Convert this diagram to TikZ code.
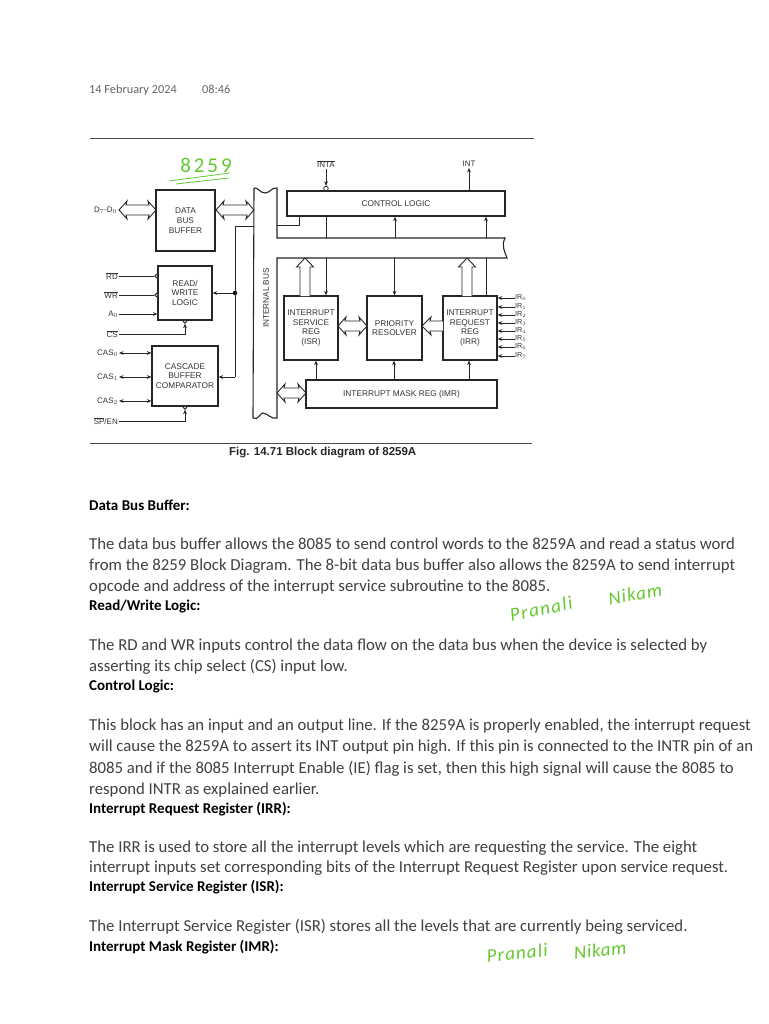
\documentclass[tikz,border=0pt]{standalone}
\usepackage{fontspec}
\setmainfont{Carlito}
\newfontfamily\figfont{Liberation Sans}
\usetikzlibrary{positioning,arrows.meta,calc}
\definecolor{ink}{RGB}{64,64,64}
\definecolor{pen}{RGB}{100,200,45}
\tikzset{
  blockbox/.style={draw=black!85,line width=1.3pt,inner sep=0pt,align=center,text=black!80,font=\figfont\fontsize{8.3}{9.7}\selectfont},
  siglabel/.style={inner sep=1pt,text=black!80,font=\figfont\fontsize{8}{9}\selectfont},
  sig/.style={draw=black!85,line width=.9pt,-{Stealth[length=4.5pt,width=3.8pt]}},
  wire/.style={draw=black!85,line width=.9pt},
  bubble/.style={circle,draw=black!85,fill=white,line width=.8pt,inner sep=0pt,minimum size=3.6pt},
  fatarrow/.style={draw=black!85,line width=.9pt,fill=white,line join=miter},
  bodyline/.style={anchor=base west,inner sep=0pt,text=ink,font=\fontsize{16.75}{19}\selectfont},
  headline/.style={anchor=base west,inner sep=0pt,text=black,font=\bfseries\fontsize{15}{16}\selectfont},
  scribble/.style={inner sep=0pt,text=pen,font=\itshape\fontsize{19}{20}\selectfont},
}
% outlined two-way arrow: left x, right x, level
\newcommand{\fatdouble}[3]{\draw[fatarrow] (#1,#3) -- (#1+8,#3-9) -- (#1+7,#3-5) -- (#2-7,#3-5) -- (#2-8,#3-9) -- (#2,#3) -- (#2-8,#3+9) -- (#2-7,#3+5) -- (#1+7,#3+5) -- (#1+8,#3+9) -- cycle;}
% outlined arrow going up: centre x, foot y, tip y
\newcommand{\fatup}[3]{\draw[fatarrow] (#1-5,#2) -- (#1-5,#3+9) -- (#1-8.5,#3+9) -- (#1,#3) -- (#1+8.5,#3+9) -- (#1+5,#3+9) -- (#1+5,#2);}
\begin{document}
\begin{tikzpicture}[x=1pt,y=-1pt]
  \useasboundingbox (0,0) rectangle (768,1024);
  % date line
  \node[anchor=base west,inner sep=0pt,text=black!60,font=\fontsize{12.3}{14}\selectfont] (stamp) at (89,93.5) {14 February 2024};
  \node[anchor=base west,inner sep=0pt,text=black!60,font=\fontsize{12.3}{14}\selectfont] (clock) at (202,93.5) {08:46};
  % rules of the figure
  \draw[black!70,line width=1pt] (90,139) -- (534,139);
  \draw[black!70,line width=1pt] (90,443) -- (532,443);
  \node[anchor=base west,inner sep=0pt,text=black!85,font=\figfont\bfseries\fontsize{11.5}{13}\selectfont] (caption) at (229,455) {Fig. 14.71 Block diagram of 8259A};
  % internal bus, vertical and horizontal parts in one outline
  \draw[black!85,line width=1.1pt,fill=white]
    (254,188) -- (253,418) .. controls (258,421) and (260,413) .. (263,413) .. controls (267,413) and (272,420) .. (277,418)
    -- (277,258) -- (507,258) .. controls (505,252) and (501,246) .. (505,238) -- (277,238) -- (277,188)
    .. controls (272,187) and (270,193) .. (265,193) .. controls (260,193) and (258,187) .. (254,188);
  \node[siglabel,rotate=90,font=\figfont\fontsize{8.2}{9}\selectfont] (busname) at (266,298) {INTERNAL BUS};
  % blocks
  \node[blockbox,minimum width=59pt,minimum height=61pt] (dbb) at (185.5,220.5) {DATA\\BUS\\BUFFER};
  \node[blockbox,minimum width=54pt,minimum height=54pt] (rwl) at (185,293) {READ/\\WRITE\\LOGIC};
  \node[blockbox,minimum width=66pt,minimum height=60pt] (cbc) at (185,376) {CASCADE\\BUFFER\\COMPARATOR};
  \node[blockbox,minimum width=218pt,minimum height=25pt] (ctl) at (396,203.5) {CONTROL LOGIC};
  \node[blockbox,minimum width=54pt,minimum height=64pt] (isr) at (311,328) {INTERRUPT\\SERVICE\\REG\\(ISR)};
  \node[blockbox,minimum width=55pt,minimum height=64pt] (prs) at (394.5,328) {PRIORITY\\RESOLVER};
  \node[blockbox,minimum width=54pt,minimum height=64pt] (irr) at (470,328) {INTERRUPT\\REQUEST\\REG\\(IRR)};
  \node[blockbox,minimum width=191pt,minimum height=28pt] (imr) at (401.5,394) {INTERRUPT MASK REG (IMR)};
  % outlined arrows
  \fatdouble{119}{156}{210}
  \fatdouble{216}{254}{210}
  \fatdouble{338}{367}{326}
  \fatdouble{277}{306}{393}
  \draw[fatarrow] (443,321) -- (430,321) -- (431,317) -- (422,326) -- (431,335) -- (430,331) -- (443,331);
  \fatup{305}{296}{258}
  \fatup{467}{296}{258}
  % data bus branch
  \coordinate (bustap) at (254,226);
  \coordinate (busknee) at (235,226);
  \node[circle,fill=black,inner sep=0pt,minimum size=4.5pt] (busdot) at (235,293) {};
  \coordinate (buscas) at (235,377);
  \draw[wire] (bustap) -- (busknee) -- (buscas);
  \draw[sig] (busdot) -- (rwl.east |- busdot);
  \draw[sig] (buscas) -- (cbc.east |- buscas);
  % inputs on the left
  \node[siglabel,anchor=east] (d70) at (118,210) {D$_7$-D$_0$};
  \node[siglabel,anchor=east] (rd) at (119,276) {$\overline{\mbox{RD}}$};
  \node[siglabel,anchor=east] (wr) at (119,295) {$\overline{\mbox{WR}}$};
  \node[siglabel,anchor=east] (azero) at (119,314) {A$_0$};
  \node[siglabel,anchor=east] (cs) at (119,334) {$\overline{\mbox{CS}}$};
  \node[siglabel,anchor=east] (caszero) at (119,353) {CAS$_0$};
  \node[siglabel,anchor=east] (casone) at (119,377) {CAS$_1$};
  \node[siglabel,anchor=east] (castwo) at (119,401) {CAS$_2$};
  \node[siglabel,anchor=east] (spen) at (119,421) {$\overline{\mbox{SP}}$/EN};
  \node[bubble] (rdb) at (156.5,276) {};
  \node[bubble] (wrb) at (156.5,295) {};
  \node[bubble] (csb) at (185,321.5) {};
  \node[bubble] (spb) at (185,407.5) {};
  \draw[wire] (rd) -- (rdb);
  \draw[wire] (wr) -- (wrb);
  \draw[sig] (azero) -- (rwl.west |- azero);
  \draw[sig] (cs.east) -- (csb |- cs) -- (csb);
  \foreach \nm in {caszero,casone,castwo} {\draw[sig,{Stealth[length=4.5pt,width=3.8pt]}-{Stealth[length=4.5pt,width=3.8pt]}] (\nm) -- (cbc.west |- \nm);}
  \draw[sig] (spen.east) -- (spb |- spen) -- (spb);
  % control logic pins
  \node[siglabel] (inta) at (326,164) {$\overline{\mbox{INTA}}$};
  \node[siglabel] (intpin) at (469,164) {INT};
  \node[bubble,minimum size=4.5pt] (intab) at (326,188.5) {};
  \draw[sig] (inta) -- (intab);
  \draw[sig] (ctl.north -| intpin) -- (intpin);
  \coordinate (ctlknee) at (299,225);
  \draw[wire] (277,225) -- (ctlknee) -- (ctl.south -| ctlknee);
  % links with the horizontal bus
  \coordinate (hbtop) at (396,238);
  \coordinate (hbbot) at (396,258);
  \draw[wire] (ctl.south -| 326,0) -- (hbtop -| 326,0);
  \draw[sig] (hbtop -| 395,0) -- (ctl.south -| 395,0);
  \draw[sig] (hbtop -| 486,0) -- (ctl.south -| 486,0);
  \draw[sig] (hbbot -| 326,0) -- (isr.north -| 326,0);
  \draw[sig] (hbbot -| prs) -- (prs.north);
  \draw[wire] (hbbot -| 486,0) -- (irr.north -| 486,0);
  % mask register up to the three blocks
  \foreach \xx/\nm in {316/isr,394/prs,469/irr} {\draw[sig] (imr.north -| \xx,0) -- (\nm.south -| \xx,0);}
  % interrupt request pins
  \foreach \i/\yy in {0/298,1/307,2/315,3/323,4/331,5/339,6/347,7/356} {
    \node[siglabel,anchor=west,inner sep=0pt,font=\figfont\fontsize{7.2}{8}\selectfont] (ir\i) at (515,\yy) {IR$_\i$};
    \draw[sig] (ir\i.west) -- (irr.east |- ir\i.west);
  }
  % handwriting
  \node[scribble,font=\fontsize{21}{22}\selectfont] (hwchip) at (206,165) {\addfontfeature{LetterSpace=14}8259};
  \draw[pen,line width=.8pt] (169,181) -- (230,173);
  \draw[pen,line width=.8pt] (176,184) -- (229,178);
  \node[scribble,rotate=12] (hwa) at (541,609) {\addfontfeature{LetterSpace=8}Pranali};
  \node[scribble,rotate=10] (hwb) at (635,594) {\addfontfeature{LetterSpace=6}Nikam};
  \node[scribble,rotate=6] (hwc) at (517,953) {\addfontfeature{LetterSpace=6}Pranali};
  \node[scribble,rotate=6] (hwd) at (600,950) {\addfontfeature{LetterSpace=4}Nikam};
  % text of the page
  \node[headline] (h1) at (89,510) {Data Bus Buffer:};
  \node[bodyline] (t1) at (89,549) {The data bus buffer allows the 8085 to send control words to the 8259A and read a status word};
  \node[bodyline] (t2) at (89,570) {from the 8259 Block Diagram. The 8-bit data bus buffer also allows the 8259A to send interrupt};
  \node[bodyline] (t3) at (89,591) {opcode and address of the interrupt service subroutine to the 8085.};
  \node[headline] (h2) at (89,610.5) {Read/Write Logic:};
  \node[bodyline] (t4) at (89,650) {The RD and WR inputs control the data flow on the data bus when the device is selected by};
  \node[bodyline] (t5) at (89,671) {asserting its chip select (CS) input low.};
  \node[headline] (h3) at (89,690.5) {Control Logic:};
  \node[bodyline] (t6) at (89,730) {This block has an input and an output line. If the 8259A is properly enabled, the interrupt request};
  \node[bodyline] (t7) at (89,751) {will cause the 8259A to assert its INT output pin high. If this pin is connected to the INTR pin of an};
  \node[bodyline] (t8) at (89,773) {8085 and if the 8085 Interrupt Enable (IE) flag is set, then this high signal will cause the 8085 to};
  \node[bodyline] (t9) at (89,794) {respond INTR as explained earlier.};
  \node[headline] (h4) at (89,813.5) {Interrupt Request Register (IRR):};
  \node[bodyline] (t10) at (89,852) {The IRR is used to store all the interrupt levels which are requesting the service. The eight};
  \node[bodyline] (t11) at (89,872) {interrupt inputs set corresponding bits of the Interrupt Request Register upon service request.};
  \node[headline] (h5) at (89,891.5) {Interrupt Service Register (ISR):};
  \node[bodyline] (t12) at (89,931) {The Interrupt Service Register (ISR) stores all the levels that are currently being serviced.};
  \node[headline] (h6) at (89,951.5) {Interrupt Mask Register (IMR):};
\end{tikzpicture}
\end{document}
